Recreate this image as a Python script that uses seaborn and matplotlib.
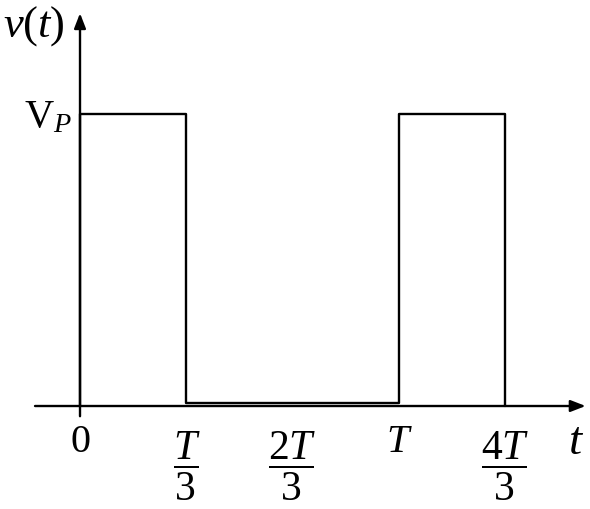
import matplotlib
matplotlib.use("Agg")
import matplotlib.pyplot as plt
import seaborn as sns
import pandas as pd

# square pulse train, one period T = 1, duty cycle 1/3
t_vals = [0, 0, 1/3, 1/3, 1, 1, 4/3, 4/3]
v_vals = [0, 1, 1, 0.01, 0.01, 1, 1, 0]

tick_pos = [0, 1/3, 2/3, 1, 4/3]
tick_labels = ["0", r"$\dfrac{T}{3}$", r"$\dfrac{2T}{3}$", r"$T$", r"$\dfrac{4T}{3}$"]

sns.set_style("white")
plt.rcParams["font.family"] = ["Liberation Serif", "DejaVu Serif"]
plt.rcParams["mathtext.fontset"] = "custom"
plt.rcParams["mathtext.rm"] = "Liberation Serif"
plt.rcParams["mathtext.it"] = "Liberation Serif:italic"
plt.rcParams["text.color"] = "black"

df = pd.DataFrame({"t": t_vals, "v": v_vals})

fig = plt.figure(figsize=(5.9, 5.1), dpi=100)
ax = fig.add_axes([0, 0, 1, 1])
sns.lineplot(data=df, x="t", y="v", sort=False, estimator=None, color="black",
             linewidth=1.7, ax=ax)

# axes with arrow heads
arrow = dict(arrowstyle="-|>,head_length=0.9,head_width=0.35", color="black", lw=1.7,
             shrinkA=0, shrinkB=0)
ax.annotate("", xy=(1.585, 0), xytext=(-0.141, 0), arrowprops=arrow)
ax.annotate("", xy=(0, 1.345), xytext=(0, -0.035), arrowprops=arrow)

for pos, lab in zip(tick_pos, tick_labels):
    if "dfrac" in lab:
        ax.text(pos, -0.205, lab, ha="center", va="center", fontsize=30)
    else:
        ax.text(pos, -0.12, lab, ha="center", va="center", fontsize=29)

ax.text(-0.1, 0.99, r"V$_{P}$", ha="center", va="center", fontsize=29)
ax.text(-0.145, 1.305, r"$v(t)$", ha="center", va="center", fontsize=32)
ax.text(1.555, -0.123, r"$t$", ha="center", va="center", fontsize=34)

ax.set_xlim(-0.2508, 1.5987)
ax.set_ylim(-0.3527, 1.3938)
ax.axis("off")

fig.savefig("out.png", dpi=100)
